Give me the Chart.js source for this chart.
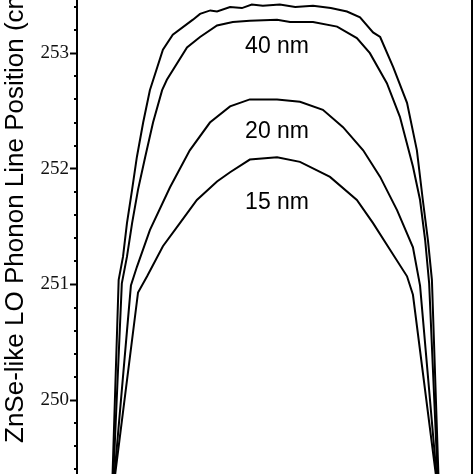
<!DOCTYPE html>
<html>
<head>
<meta charset="utf-8">
<script src="https://cdn.jsdelivr.net/npm/chart.js@4.4.1/dist/chart.umd.min.js"></script>
<style>
  html, body { margin: 0; padding: 0; background: #fff; }
  #wrap { width: 474px; height: 474px; }
</style>
</head>
<body>
<div id="wrap"><canvas id="chart" width="474" height="474"></canvas></div>
<script>
// Position across the sample (arbitrary units, axis not shown) and LO phonon line position (cm-1)
const xTop = [-41.3, -39.7, -38.6, -37.6, -36.3, -35.1, -33.5, -31.8, -28.5, -26.0, -20.9, -19.1, -16.5, -14.8, -11.5, -8.5, -6.0, -3.2, 1.1, 5.0, 9.5, 14.0, 18.1, 21.4, 24.7, 26.5, 29.8, 33.3, 35.8, 37.3, 38.6, 39.6, 41.3];
const yTop = [249.30, 251.04, 251.24, 251.53, 251.82, 252.10, 252.40, 252.68, 253.03, 253.16, 253.29, 253.34, 253.37, 253.36, 253.40, 253.39, 253.42, 253.41, 253.42, 253.40, 253.41, 253.39, 253.36, 253.31, 253.18, 253.14, 252.88, 252.57, 252.16, 251.73, 251.38, 251.04, 249.30];

const x40 = [-41.1, -38.9, -37.6, -36.3, -34.8, -33.0, -31.0, -28.7, -27.5, -22.4, -19.1, -14.8, -10.8, -6.5, 0.4, 3.7, 9.5, 15.6, 20.6, 23.9, 28.2, 31.5, 34.8, 36.6, 37.9, 38.9, 41.1];
const y40 = [249.30, 251.01, 251.24, 251.53, 251.82, 252.10, 252.40, 252.68, 252.77, 253.05, 253.14, 253.24, 253.27, 253.28, 253.29, 253.27, 253.27, 253.23, 253.13, 253.00, 252.74, 252.45, 252.02, 251.73, 251.38, 251.01, 249.30];

const x20 = [-40.9, -36.6, -35.1, -31.8, -26.7, -21.7, -16.6, -11.5, -6.5, 0.4, 6.2, 12.0, 17.1, 22.2, 26.5, 30.8, 34.8, 36.6, 40.9];
const y20 = [249.30, 250.99, 251.15, 251.47, 251.84, 252.16, 252.40, 252.54, 252.60, 252.60, 252.58, 252.51, 252.36, 252.16, 251.93, 251.64, 251.32, 250.99, 249.30];

const x15 = [-40.8, -34.8, -32.5, -28.5, -24.2, -19.9, -14.8, -11.5, -6.5, 0.4, 6.2, 13.8, 20.6, 24.7, 29.0, 33.3, 34.8, 40.8];
const y15 = [249.30, 250.93, 251.07, 251.33, 251.53, 251.73, 251.89, 251.97, 252.08, 252.10, 252.06, 251.93, 251.73, 251.53, 251.30, 251.07, 250.91, 249.30];

// curve labels
const curveLabels = ['40 nm', '20 nm', '15 nm'];
const labelX = [0.4, 0.4, 0.4];
const labelY = [253.06, 252.32, 251.71];

const yTitle = 'ZnSe-like LO Phonon Line Position (cm\u207B\u00B9)';
const yMin = 249.36, yMax = 253.46;

function pts(xs, ys) {
    return xs.map((x, i) => ({ x: x, y: ys[i] }));
}

function series(xs, ys) {
    return {
        data: pts(xs, ys),
        borderColor: '#000',
        borderWidth: 2,
        pointRadius: 0,
        tension: 0,
        fill: false,
    };
}

// minor ticks every 0.2, curve labels and the rotated axis title
const extras = {
    id: 'extras',
    afterDraw(chart) {
        const ctx = chart.ctx;
        const ys = chart.scales.y;
        const xs = chart.scales.x;
        const left = chart.chartArea.left;
        ctx.save();
        ctx.strokeStyle = '#000';
        ctx.lineWidth = 2;
        for (let k = Math.ceil(yMin * 5); k <= Math.floor(yMax * 5); k++) {
            if (k % 5 === 0) continue;
            const py = Math.round(ys.getPixelForValue(k / 5));
            ctx.beginPath();
            ctx.moveTo(left - 3, py);
            ctx.lineTo(left, py);
            ctx.stroke();
        }

        ctx.fillStyle = '#000';
        ctx.font = '23px "Liberation Sans", Arial, sans-serif';
        ctx.textAlign = 'center';
        ctx.textBaseline = 'middle';
        curveLabels.forEach((t, i) => {
            ctx.fillText(t, xs.getPixelForValue(labelX[i]), ys.getPixelForValue(labelY[i]));
        });

        ctx.font = '26px "Liberation Sans", Arial, sans-serif';
        ctx.textAlign = 'left';
        ctx.textBaseline = 'alphabetic';
        ctx.translate(23, 443);
        ctx.rotate(-Math.PI / 2);
        ctx.fillText(yTitle, 0, 0);
        ctx.restore();
    }
};

const ctx = document.getElementById('chart').getContext('2d');

new Chart(ctx, {
    type: 'line',
    data: {
        datasets: [
            series(xTop, yTop),
            series(x40, y40),
            series(x20, y20),
            series(x15, y15),
        ],
    },
    options: {
        responsive: false,
        animation: false,
        layout: { padding: 0 },
        plugins: {
            legend: { display: false },
            tooltip: { enabled: false },
        },
        scales: {
            x: {
                type: 'linear',
                display: false,
                min: -50.25,
                max: 49.75,
            },
            y: {
                type: 'linear',
                position: 'left',
                min: yMin,
                max: yMax,
                ticks: {
                    stepSize: 1,
                    includeBounds: false,
                    padding: 1,
                    color: '#111',
                    font: { family: '"Liberation Serif", "Times New Roman", serif', size: 19 },
                },
                grid: {
                    drawOnChartArea: false,
                    drawTicks: true,
                    tickLength: 7,
                    tickWidth: 2,
                    tickColor: '#000',
                },
                border: { display: true, color: '#000', width: 2 },
                afterFit(scale) {
                    scale.width = 77;
                    scale.paddingTop = 0;
                    scale.paddingBottom = 0;
                },
            },
            y2: {
                type: 'linear',
                position: 'right',
                min: yMin,
                max: yMax,
                ticks: { display: false },
                grid: { drawOnChartArea: false, drawTicks: false },
                border: { display: true, color: '#000', width: 2 },
                afterFit(scale) {
                    scale.width = 2;
                    scale.paddingTop = 0;
                    scale.paddingBottom = 0;
                },
            },
        },
    },
    plugins: [extras],
});
</script>
</body>
</html>
